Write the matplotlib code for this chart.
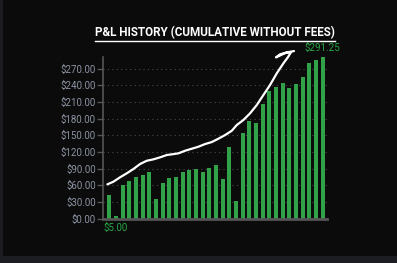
import numpy as np
import matplotlib.pyplot as plt
from matplotlib.lines import Line2D
from matplotlib.ticker import FuncFormatter

# valores acumulados (P&L) por barra
pnl = [42.5, 5.0, 61.2, 68.4, 75.6, 78.6, 84.0, 35.4, 64.8, 72.3, 74.4,
       83.4, 87.0, 88.8, 84.6, 90.6, 97.2, 70.8, 128.4, 31.8, 153.6, 175.8,
       172.2, 206.4, 230.4, 237.6, 244.8, 235.2, 242.4, 255.0, 280.2, 286.2,
       291.25]
yticks = [0, 30, 60, 90, 120, 150, 180, 210, 240, 270]
titulo = 'P&L HISTORY (CUMULATIVE WITHOUT FEES)'

# seta desenhada a mao (indice da barra, valor em $)
seta_x = [-0.30, 0.60, 1.60, 2.61, 3.60, 4.60, 5.61, 6.60, 7.60, 8.61, 9.36,
          10.35, 11.36, 12.36, 13.35, 14.35, 15.36, 16.35, 17.36, 18.36, 19.11,
          20.10, 21.10, 22.11, 23.10, 24.10, 25.11, 26.10, 26.8, 27.25]
seta_y = [61.8, 66.5, 74.4, 81.6, 89.3, 98.3, 104.2, 106.7, 110.3, 114.5,
          115.7, 117.5, 122.2, 125.8, 129.4, 134.2, 137.8, 143.8, 150.4, 158.1,
          168.4, 177.4, 189.4, 204.3, 222.3, 240.3, 261.3, 279.2, 290.6, 299.5]
ponta_x = [27.25, 26.35, 25.0, 25.6, 26.6, 27.7]
ponta_y = [299.5, 297.7, 290.0, 295.5, 299.0, 301.4]

fundo = '#0b0b0b'
borda = '#1c1d22'
verde = '#31a248'
cinza = '#8c93a3'

fig = plt.figure(figsize=(3.97, 2.63), dpi=100)
fig.patch.set_facecolor(fundo)
# borda esquerda e inferior
fig.patches.append(plt.Rectangle((0, 0), 3 / 397, 1, transform=fig.transFigure,
                                 facecolor=borda, edgecolor='none'))
fig.patches.append(plt.Rectangle((0, 0), 1, 7 / 263, transform=fig.transFigure,
                                 facecolor=borda, edgecolor='none'))

ax = fig.add_axes([0.2587, 0.1684, 0.565, 0.616])
ax.set_facecolor(fundo)

x = np.arange(len(pnl))
ax.bar(x, pnl, width=0.6, color=verde, zorder=2)
ax.set_xlim(-1, 32.65)
ax.set_ylim(0, max(pnl))

ax.set_yticks(yticks)
ax.yaxis.set_major_formatter(FuncFormatter(lambda v, p: '${:.2f}'.format(v)))
ax.set_xticks([])
ax.tick_params(axis='y', colors='#555555', labelcolor=cinza, labelsize=7,
               length=4, width=1, pad=1)
for lab in ax.get_yticklabels():
    lab.set_fontfamily('Roboto')

ax.grid(axis='y', color='#4a4a4a', linestyle=(0, (1, 3)), linewidth=0.8, zorder=1)
for s in ['top', 'right']:
    ax.spines[s].set_visible(False)
ax.spines['left'].set_color('#555555')
ax.spines['left'].set_linewidth(1.2)
ax.spines['bottom'].set_color('#555555')
ax.spines['bottom'].set_linewidth(2)

# rotulos de minimo e maximo
imin = int(np.argmin(pnl))
imax = int(np.argmax(pnl))
ax.annotate('${:.2f}'.format(pnl[imin]), (x[imin], 0), xytext=(0, -3),
            textcoords='offset points', ha='center', va='top', color='#27a844',
            fontsize=7, family='Roboto', annotation_clip=False)
ax.annotate('${:.2f}'.format(pnl[imax]), (x[imax], pnl[imax]), xytext=(0, 3),
            textcoords='offset points', ha='center', va='bottom', color='#27a844',
            fontsize=7, family='Roboto', annotation_clip=False)

# seta branca
ax.plot(seta_x, seta_y, color='white', linewidth=1.6, clip_on=False, zorder=5,
        solid_capstyle='round', solid_joinstyle='round')
ax.plot(ponta_x, ponta_y, color='white', linewidth=1.6, clip_on=False, zorder=5,
        solid_capstyle='round', solid_joinstyle='round')

# titulo sublinhado
t = fig.text(0.541, 0.876, titulo, ha='center', va='center', color='white',
             fontsize=8.4, family='Roboto', fontweight='bold')
fig.canvas.draw()
bb = t.get_window_extent().transformed(fig.transFigure.inverted())
fig.lines.append(Line2D([bb.x0, bb.x1], [bb.y0 - 0.006, bb.y0 - 0.006],
                        transform=fig.transFigure, color='white', linewidth=1))

fig.savefig('out.png', dpi=100, facecolor=fig.get_facecolor())
